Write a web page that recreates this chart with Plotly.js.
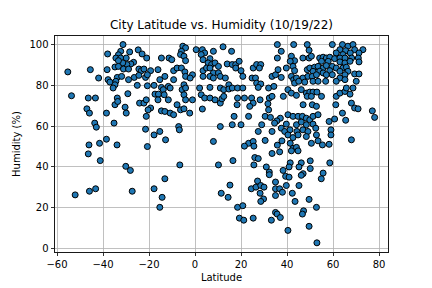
<!DOCTYPE html>
<html>
<head>
<meta charset="utf-8">
<script src="https://cdn.plot.ly/plotly-3.0.1.min.js"></script>
<style>html,body{margin:0;padding:0;background:#fff;}#chart{width:432px;height:288px;}</style>
</head>
<body>
<div id="chart"></div>
<script>
// [latitude, humidity %] pairs, grouped by latitude band
const farSouthCities = [
[-31.3,100],[-32.3,96.7],[-28.4,96.4],[-24.7,97.4],[-23,95.4],[-21,93.4],[-38,95.4],[-33.3,95],[-34.4,93.4],[-32.3,93.4],
[-29.9,93.4],[-26.7,91.3],[-27.9,90.5],[-29.6,90.2],[-31.4,91],[-33.3,92.1],[-34.8,89],[-33.3,89.3],[-31.1,88],[-28.9,88],
[-24.4,88],[-23.3,87.2],[-22.2,88],[-19.3,87.2],[-45.5,87.7],[-38.2,87.7],[-55.3,86.6],[-41.9,83.6],[-37.8,82.8],[-37,81.6],
[-33.8,83.9],[-34.4,82],[-31.9,84.4],[-28.9,82.8],[-26.4,83.9],[-24.4,84.9],[-21.5,83.9],[-20.7,85.2],[-25.1,80],[-20.7,79.8],
[-17.8,80],[-34.8,80.3],[-35.6,78.7],[-53.7,74.9],[-46.4,73.8],[-43.3,73.8],[-33.8,73.8],[-29.2,75.9],[-34.8,70.5],[-33.6,72.1],
[-24.1,71.3],[-22.2,71.3],[-21.2,72.9],[-17.4,75.7],[-15.9,75.7],[-19.3,68.9],[-20.4,68],[-21.2,64.8],[-47,68.5],[-45.9,66.4],
[-38.5,66.4],[-30.4,69.3],[-29.9,66.4],[-43.6,61.5],[-42.9,59.5],[-35.2,61.5],[-21.5,58.5],[-17.8,55.7],[-38.5,53.6],[-41.5,51.6],
[-46.1,50.8],[-33.9,50.8],[-20.7,50],[-46.4,46.4],[-41.2,43.1],[-30.1,40.3],[-28.1,38.3],[-52.1,26.3],[-45.9,28.1],[-43.2,29.3],
[-27.3,28.1],[-17.8,29.3]
];
const tropicCities = [
[-5.3,99.2],[-4.1,98.4],[-5.9,96.7],[0.5,97.5],[3.2,97.5],[4.2,95.9],[8,96.7],[12.2,98.9],[15.9,96.7],[35.8,100],
[-14.6,93.4],[-11.3,93.4],[-10.1,92.6],[-6.3,95.1],[-4.8,94.3],[-4.1,92.1],[2.7,95.1],[3.5,92.6],[6.5,93.1],[5.7,91],
[7.2,90.2],[8.7,91],[10.2,89.3],[14,90.5],[16.2,90.2],[17.7,90.2],[19.2,91.8],[17.7,88.5],[25.3,88.5],[26.8,90.2],
[28.6,90.2],[28,88.5],[35.8,93.4],[-16.1,87.7],[-13.1,84.4],[-9.3,87.2],[-7.8,88.5],[-5.9,88.5],[-4.4,86.6],[-4.1,84.4],
[-1.1,85.2],[-2.1,83.6],[3.5,87.2],[5,88.5],[6.5,88.5],[8,86.1],[6.5,84.4],[8,83.6],[10.2,86.1],[11,84.4],
[13.2,83.6],[3.5,84.4],[20,87.2],[20.8,84.4],[24.8,83.6],[26.3,83.6],[26.8,81.1],[28.6,80.7],[33.5,84.4],[35,85.2],
[-15.3,82.8],[-14.6,79],[-11.6,79.5],[-13.8,77.9],[-9.3,82.8],[-10.8,78.7],[-4.8,80.3],[-5.6,77.9],[-4.1,78.7],[2,78.7],
[6.5,79],[11,78.7],[12.5,77.9],[14.7,80.3],[14.7,78.2],[16.2,78.7],[18.5,78.7],[20.8,78.7],[27.5,79],[32,78.7],[34.3,79.5],
[-16.1,72.9],[-13.4,75.4],[-11.6,72.9],[-4.8,75.4],[-1.1,72.9],[-4.1,72.9],[2.7,75.4],[4.2,73.8],[6.5,73.8],[8.7,72.9],
[11,71.3],[11.7,73.4],[12.5,74.6],[18.5,73.8],[18.3,70.5],[21.5,73.8],[24.6,73.8],[25.3,71.3],[23.8,69.7],[28.3,72.9],
[32.3,73.8],[31.7,71],[32,68],[33.5,74.6],[-14.6,67.5],[-13.1,67.2],[-10.8,66.4],[-9.3,65.6],[-7.8,70.5],[-6.3,68],
[-4.8,68.5],[-2.3,66.4],[3.2,68.4],[17,64.8],[23.3,64.8],[30.5,64.8],[32.8,64.3],[-7.1,59.8],[-6.8,58.2],[11,59.8],
[16.2,60.7],[20,60.7],[27.5,57.4],[29,60.7],[33.5,57.4],[-15.3,57.4],[-12.8,53.3],[8,52.5],[23.3,51.6],[25.3,52.5],[30.5,53],
[21.5,50.2],[25.6,50.2],[33.5,46.6],[35.8,50.7],[16.5,43.1],[10.2,41],[-6.6,41],[26,44.6],[27.5,44.1],[25.6,41],
[31,40],[32.3,37.5],[32.3,36.2],[-13.1,34.2],[15.2,31.1],[11.4,27.1],[14.4,25.1],[-14.3,25.1],[-15.3,20.2],[27.2,33.1],
[24.5,29.3],[26.5,30.1],[28.6,30.9],[30,30.1],[28.3,27.1],[29.8,24.3],[28.6,23.1],[35,32.6],[35,29.3],[35,26],
[18.5,20.2],[20.8,21],[19.3,14.9],[21.2,13.9],[25.3,14.9],[33.2,13.9],[35,17.7]
];
const northCities = [
[42.9,100],[48.8,100],[37.5,96.7],[49.6,97.2],[59.7,100],[64.1,100],[66.5,99.2],[68.7,100],[63,97.5],[65.5,97],
[69.4,97.5],[73,97.5],[71.3,95.9],[67.5,95.9],[64.3,95.1],[61.4,95.9],[41.9,94.3],[43.3,92.1],[41.4,91.8],[46.9,93.4],
[49.6,93.4],[50.6,94.3],[54.2,93.4],[55.7,93.8],[57.1,93.4],[58.6,93.8],[60.7,93.1],[63,93.4],[65.2,93.4],[68.1,93.4],
[71,93.4],[55,91.8],[57.9,91.8],[63,91.5],[65.2,91],[67.4,91.8],[71.3,91.5],[36.1,87.7],[39.7,88.5],[42.6,89.3],
[43.3,87.2],[48.8,87.7],[49.9,88.5],[52,88.9],[53.5,89.3],[55.7,88.5],[57.1,89.7],[59.7,89.3],[61.4,88.5],[64.3,88.5],
[65.8,88.9],[51.3,86.9],[54.2,86.9],[58.6,87.2],[63,86.9],[66.5,86.9],[37.5,83.9],[41.9,84.4],[42.9,82.8],[44.1,83.6],
[46.9,83.6],[49.1,84.4],[51,84.4],[52.8,85.2],[55.7,86.1],[57.1,85.2],[59.7,85.2],[63,83.6],[65.2,85.2],[69.4,85.6],
[71.3,85.6],[43.3,81.1],[45.1,82],[47.7,81.6],[51.3,82],[53.5,82],[56.8,82],[61.4,82],[65.2,82.8],[70.1,82],
[40.4,77.9],[41.9,76.2],[38.4,74.6],[44.1,75.1],[46.2,77.9],[48.4,76.2],[49.9,76.7],[51.3,76.7],[53,76.7],[55,74.6],
[48.8,74.6],[50.6,74.6],[61.4,74.6],[63,76.2],[65.2,77],[67.4,75.7],[65.8,78.7],[68.7,78.7],[47,70.5],[51,70.5],
[52.8,69.7],[61.2,70.5],[68,71.3],[69.4,68.9],[70.9,68.5],[64.1,66.4],[40.4,65.6],[42.6,64.8],[44.8,64.8],[46.7,64.8],
[48.4,63.9],[49.9,63.1],[51.3,64.8],[53.5,65.6],[58.3,62.3],[60.7,63.5],[65.5,62.9],[77.1,67.5],[78.1,64.3],[37.1,63.9],
[35.6,62.6],[34.6,61.5],[37.5,59],[39.7,61],[44.1,60.7],[46.2,62],[48.4,60.7],[51.3,61],[39,57.4],[41.3,58.2],
[44.3,57.4],[46.9,58.2],[49.1,57.4],[52.5,59],[40.4,55.7],[42.6,54.4],[44.8,55.7],[48.4,54.9],[52.8,55.7],[59.1,58.2],
[59.1,55.7],[37.8,52.8],[41.4,51.6],[50.6,51.6],[53.5,52.8],[55.4,50.8],[58.3,51.1],[68,53.3],
[42.6,49.1],[44.1,49.6],[44.8,47.9],[41.9,47.9],[36.8,47.4],[41.4,42],[46.2,42],[50.1,43],[58.6,42],[40.9,40],
[45.2,40],[50.1,39.2],[38.3,38.3],[39.4,35.4],[40.9,35],[47,36.7],[46.2,35.9],[55.7,37],[54.9,34.2],[36.8,29.3],
[38,27.6],[39.7,30.9],[45.2,30.9],[42.3,27.1],[43.5,23.1],[49.6,24.1],[52.8,20.2],[47.2,18.5],[46.7,16.9],[35.7,16.9],
[37.1,15.2],[49.6,10.9],[40.4,8.9],[53,2.8]
];
const xTicks = [-60, -40, -20, 0, 20, 40, 60, 80];
const yTicks = [0, 20, 40, 60, 80, 100];

const allCities = farSouthCities.concat(tropicCities, northCities);
const latitude = allCities.map(p => p[0]);
const humidity = allCities.map(p => p[1]);

const font = 'DejaVu Sans, Liberation Sans, sans-serif';
const trace = {
  type: 'scatter', mode: 'markers', x: latitude, y: humidity,
  marker: {color: '#1f77b4', size: 6, line: {color: '#000000', width: 1}},
  hoverinfo: 'skip'
};
const axisCommon = {
  showgrid: true, gridcolor: '#b0b0b0', gridwidth: 0.8,
  zeroline: false, showline: true, linecolor: '#000000', linewidth: 0.9, mirror: true,
  ticks: 'outside', ticklen: 3.5, tickwidth: 0.8, tickcolor: '#000000',
  tickfont: {family: font, size: 10, color: '#000000'}, tickmode: 'array'
};
const layout = {
  width: 432, height: 288,
  margin: {l: 55, r: 44, t: 35.5, b: 35.7, pad: 0},
  paper_bgcolor: '#ffffff', plot_bgcolor: '#ffffff',
  showlegend: false,
  title: {text: 'City Latitude vs. Humidity (10/19/22)', font: {family: font, size: 12, color: '#000000'},
          x: 0.5, xref: 'paper', xanchor: 'center', y: 0.915, yref: 'container', yanchor: 'middle'},
  xaxis: Object.assign({}, axisCommon, {
    range: [-60.87, 83.91], tickvals: xTicks, ticktext: xTicks.map(v => v < 0 ? '\u2212' + Math.abs(v) : String(v)),
    title: {text: 'Latitude', font: {family: font, size: 10, color: '#000000'}, standoff: 4}
  }),
  yaxis: Object.assign({}, axisCommon, {
    range: [-1.7, 104.2], tickvals: yTicks, ticktext: yTicks.map(String),
    title: {text: 'Humidity (%)', font: {family: font, size: 10, color: '#000000'}, standoff: 6}
  })
};
Plotly.newPlot('chart', [trace], layout, {staticPlot: true, displayModeBar: false});
</script>
</body>
</html>
